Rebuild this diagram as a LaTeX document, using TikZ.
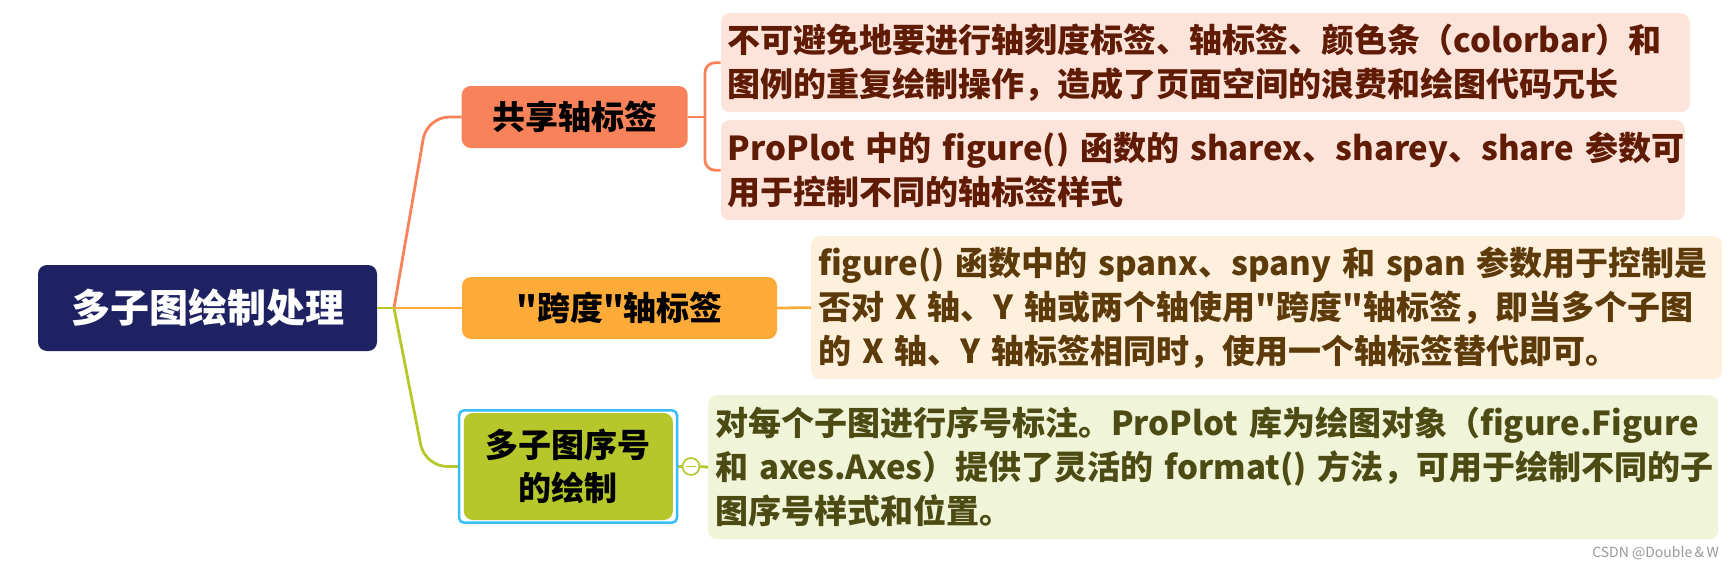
\documentclass[tikz,border=0pt]{standalone}
\usepackage{fontspec}
\setmainfont{Noto Sans CJK SC}[Ligatures=TeXOff]
\usetikzlibrary{calc}
\definecolor{rootc}{HTML}{1F2262}
\definecolor{shc}{HTML}{F8825A}
\definecolor{spc}{HTML}{FDAB38}
\definecolor{msc}{HTML}{B5C72A}
\definecolor{bluec}{HTML}{37BDF9}
\definecolor{pinkc}{HTML}{FDE4DB}
\definecolor{creamc}{HTML}{FEF0DC}
\definecolor{limec}{HTML}{F0F4D8}
\definecolor{tone}{HTML}{601B04}
\definecolor{tthree}{HTML}{5D3A0A}
\definecolor{tfour}{HTML}{4B4B13}
\definecolor{wmark}{HTML}{9A9A9A}
\newcommand\oneline[1]{\mbox{#1}}
\begin{document}
\begin{tikzpicture}[x=1pt,y=-1pt,
  topic/.style={rounded corners=9pt, inner sep=0pt, align=center, text=black,
    font=\bfseries\fontsize{33}{43}\selectfont},
  note/.style={rounded corners=9pt, anchor=north west, inner xsep=7pt, inner ysep=0pt,
    align=left, font=\bfseries\fontsize{33}{44}\selectfont},
  conn/.style={line width=2.8pt},
]
\useasboundingbox (0,0) rectangle (1733,573);
\fill[white] (0,0) rectangle (1733,573);

% nodes
\node[topic, fill=rootc, text=white, minimum width=339, minimum height=86,
  font=\bfseries\fontsize{39}{45}\selectfont] (root) at (207.5,308) {多子图绘制处理};
\node[topic, fill=shc, minimum width=226, minimum height=62] (sh) at (574.7,117) {共享轴标签};
\node[topic, fill=spc, minimum width=315, minimum height=62] (sp) at (619.5,308) {"跨度"轴标签};
\node[topic, fill=msc, minimum width=209, minimum height=107] (ms) at (568.3,466.5) {多子图序号\\的绘制};

\node[note, fill=pinkc, text=tone, text width=955, minimum height=99] (b1) at (720.6,13)
  {\oneline{不可避免地要进行轴刻度标签、轴标签、颜色条（colorbar）和}\\\oneline{图例的重复绘制操作，造成了页面空间的浪费和绘图代码冗长}};
\node[note, fill=pinkc, text=tone, text width=950, minimum height=100] (b2) at (720.6,120)
  {\oneline{ProPlot 中的 figure() 函数的 sharex、sharey、share 参数可}\\\oneline{用于控制不同的轴标签样式}};
\node[note, fill=creamc, text=tthree, text width=897, minimum height=143] (b3) at (811,236)
  {\oneline{figure() 函数中的 spanx、spany 和 span 参数用于控制是}\\\oneline{否对 X 轴、Y 轴或两个轴使用"跨度"轴标签，即当多个子图}\\\oneline{的 X 轴、Y 轴标签相同时，使用一个轴标签替代即可。}};
\node[note, fill=limec, text=tfour, text width=996, minimum height=144] (b4) at (708,395)
  {\oneline{对每个子图进行序号标注。ProPlot 库为绘图对象（figure.Figure}\\\oneline{和 axes.Axes）提供了灵活的 format() 方法，可用于绘制不同的子}\\\oneline{图序号样式和位置。}};

\node[circle, draw=msc, fill=white, line width=1.6pt, minimum size=17, inner sep=0pt] (col) at (691,466.5) {};

\node[anchor=east, text=wmark, font=\fontsize{14}{16}\selectfont, inner sep=0pt] (wm) at (1719,553) {CSDN @Double\,\&\,W};

% connectors
\coordinate (br) at (394,308);
\coordinate (brk) at (705,117);
\draw[conn, draw=shc, rounded corners=22pt] (br) -- ($(br |- sh.west)+(33,0)$) -- (sh.west);
\draw[conn, draw=spc] (br) -- (sp.west);
\draw[conn, draw=msc, rounded corners=22pt] (br) -- ($(br |- ms.west)+(31,0)$) -- ([xshift=-4pt]ms.west);
\draw[conn, draw=msc] (root.east) -- (br);

\draw[conn, draw=shc] (sh.east) -- (brk);
\draw[conn, draw=shc, rounded corners=10pt] (b1.west) -- (b1.west -| brk) -- (b2.west -| brk) -- (b2.west);
\draw[conn, draw=spc] (sp.east) -- (b3.west);
\draw[conn, draw=msc] ([xshift=4pt]ms.east) -- (col.west);
\draw[conn, draw=msc] (col.east) -- (b4.west);
\draw[msc, line width=1.6pt] ([xshift=-5pt]col.center) -- ([xshift=5pt]col.center);

\draw[line width=2.5pt, draw=bluec, rounded corners=5pt]
  ($(ms.south west)+(-4.5,2.5)$) rectangle ($(ms.north east)+(4,-2.5)$);
\end{tikzpicture}
\end{document}
